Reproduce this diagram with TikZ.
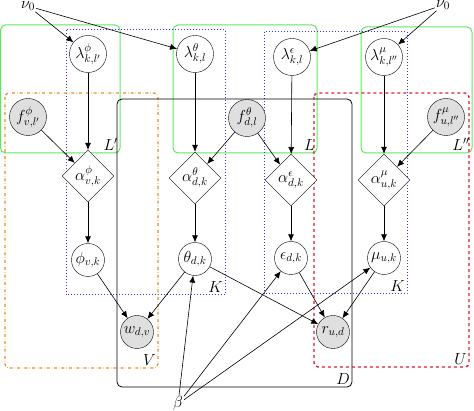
\RequirePackage{fix-cm}
\documentclass[tikz,border=0pt]{standalone}
\usetikzlibrary{shapes.geometric,arrows.meta}
\definecolor{pgreen}{RGB}{95,230,95}
\definecolor{pblue}{RGB}{55,55,225}
\definecolor{porange}{RGB}{232,140,40}
\definecolor{pred}{RGB}{220,30,50}
\begin{document}
\begin{tikzpicture}[x=1pt,y=-1pt,
  font=\fontsize{16}{19}\selectfont,
  lat/.style={circle,draw,fill=white,minimum size=37pt,inner sep=0pt},
  obs/.style={circle,draw,fill=gray!25,minimum size=37pt,inner sep=0pt},
  var/.style={circle,draw,fill=white,minimum size=33pt,inner sep=0pt},
  obs2/.style={circle,draw,fill=gray!25,minimum size=33pt,inner sep=0pt},
  dia/.style={diamond,draw,fill=white,minimum width=52pt,minimum height=52pt,inner sep=0pt},
  hyp/.style={inner sep=1pt},
  arr/.style={-{Latex[length=7pt,width=6pt]},line width=0.6pt},
  gplate/.style={draw=pgreen,line width=1pt,rounded corners=5pt},
  bplate/.style={draw=pblue,dotted,line width=1pt},
  oplate/.style={draw=porange,dash dot,line width=1.2pt,rounded corners=4pt},
  dplate/.style={draw=black,line width=0.8pt,rounded corners=5pt},
  rplate/.style={draw=pred,dashed,line width=1.4pt,rounded corners=4pt},
  plab/.style={anchor=south east,inner sep=2pt}
]
\useasboundingbox (0,0) rectangle (474,411);
% plates
\draw[gplate] (0.5,25) rectangle (120,153);
\draw[gplate] (173,25) rectangle (317,153);
\draw[gplate] (361,27) rectangle (472,153);
\draw[bplate] (66,30) rectangle (225,295);
\draw[bplate] (264,32) rectangle (407,294);
\draw[oplate] (5,93) rectangle (158,368);
\draw[dplate] (117,99) rectangle (352,387);
\draw[rplate] (314,93) rectangle (469,367);
\node[plab] (labLp) at (120,153) {$L'$};
\node[plab] (labL) at (317,153) {$L$};
\node[plab] (labLpp) at (472,153) {$L''$};
\node[plab] (labK1) at (225,295) {$K$};
\node[plab] (labK2) at (407,294) {$K$};
\node[plab] (labV) at (158,368) {$V$};
\node[plab] (labD) at (352,387) {$D$};
\node[plab] (labU) at (469,367) {$U$};
% nodes
\node[hyp] (nuL) at (28,6) {$\nu_0$};
\node[hyp] (nuR) at (443,5) {$\nu_0$};
\node[hyp] (beta) at (178,404) {$\beta$};
\node[lat] (lphi) at (88,54) {$\lambda^{\phi}_{k,l'}$};
\node[lat] (ltheta) at (195,54) {$\lambda^{\theta}_{k,l}$};
\node[lat] (leps) at (292,57) {$\lambda^{\epsilon}_{k,l}$};
\node[lat] (lmu) at (384,57) {$\lambda^{\mu}_{k,l''}$};
\node[obs] (fphi) at (28,117) {$f^{\phi}_{v,l'}$};
\node[obs] (ftheta) at (247,118) {$f^{\theta}_{d,l}$};
\node[obs] (fmu) at (446,117) {$f^{\mu}_{u,l''}$};
\node[dia] (aphi) at (88,176) {$\alpha^{\phi}_{v,k}$};
\node[dia] (atheta) at (195,178) {$\alpha^{\theta}_{d,k}$};
\node[dia] (aeps) at (291,180) {$\alpha^{\epsilon}_{d,k}$};
\node[dia] (amu) at (384,180) {$\alpha^{\mu}_{u,k}$};
\node[var] (phi) at (88,260) {$\phi_{v,k}$};
\node[var] (theta) at (195,259) {$\theta_{d,k}$};
\node[var] (eps) at (291,258) {$\epsilon_{d,k}$};
\node[var] (mu) at (384,258) {$\mu_{u,k}$};
\node[obs2] (w) at (137,332) {$w_{d,v}$};
\node[obs2] (r) at (333,332) {$r_{u,d}$};
% edges
\draw[arr] (nuL) -- (lphi);
\draw[arr] (nuL) -- (ltheta);
\draw[arr] (nuR) -- (leps);
\draw[arr] (nuR) -- (lmu);
\draw[arr] (lphi) -- (aphi);
\draw[arr] (ltheta) -- (atheta);
\draw[arr] (leps) -- (aeps);
\draw[arr] (lmu) -- (amu);
\draw[arr] (fphi) -- (aphi);
\draw[arr] (ftheta) -- (atheta);
\draw[arr] (ftheta) -- (aeps);
\draw[arr] (fmu) -- (amu);
\draw[arr] (aphi) -- (phi);
\draw[arr] (atheta) -- (theta);
\draw[arr] (aeps) -- (eps);
\draw[arr] (amu) -- (mu);
\draw[arr] (phi) -- (w);
\draw[arr] (theta) -- (w);
\draw[arr] (theta) -- (r);
\draw[arr] (eps) -- (r);
\draw[arr] (mu) -- (r);
\draw[arr] (beta) -- (theta);
\draw[arr] (beta) -- (eps);
\draw[arr] (beta) -- (mu);
\end{tikzpicture}
\end{document}
